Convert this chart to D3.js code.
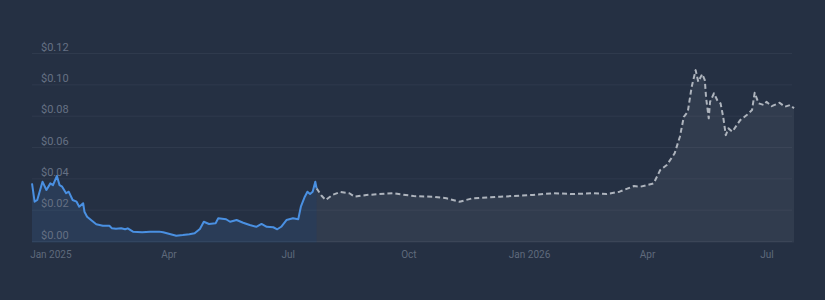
<!DOCTYPE html>
<html>
<head>
<meta charset="utf-8">
<script src="https://cdn.jsdelivr.net/npm/d3@7"></script>
<style>
  html, body { margin: 0; padding: 0; background: #253043; }
  svg { display: block; font-family: Roboto, "Noto Sans", sans-serif; }
</style>
</head>
<body>
<script>
// price history (solid blue)
var histDates = ['2024-12-18','2024-12-20','2024-12-22','2024-12-26','2024-12-29','2025-01-01','2025-01-03','2025-01-06','2025-01-08','2025-01-10',
  '2025-01-13','2025-01-15','2025-01-18','2025-01-21','2025-01-23','2025-01-26','2025-01-27','2025-01-29','2025-02-01','2025-02-05',
  '2025-02-10','2025-02-15','2025-02-17','2025-02-20','2025-02-24','2025-02-27','2025-03-01','2025-03-05','2025-03-12','2025-03-18',
  '2025-03-25','2025-03-28','2025-04-02','2025-04-07','2025-04-12','2025-04-17','2025-04-21','2025-04-25','2025-04-28','2025-05-02',
  '2025-05-07','2025-05-09','2025-05-15','2025-05-18','2025-05-23','2025-05-28','2025-06-02','2025-06-07','2025-06-11','2025-06-15',
  '2025-06-20','2025-06-23','2025-06-26','2025-06-30','2025-07-05','2025-07-09','2025-07-11','2025-07-14','2025-07-16','2025-07-18',
  '2025-07-20','2025-07-22','2025-07-23'];
var histValues = [0.0371,0.0254,0.0265,0.0382,0.0329,0.0371,0.0360,0.0418,0.0360,0.0350,
  0.0308,0.0318,0.0265,0.0254,0.0222,0.0244,0.0190,0.0158,0.0137,0.0110,
  0.0101,0.0101,0.0084,0.0081,0.0084,0.0078,0.0084,0.0063,0.0059,0.0063,
  0.0063,0.0059,0.0048,0.0037,0.0041,0.0046,0.0052,0.0080,0.0126,0.0112,
  0.0116,0.0148,0.0142,0.0126,0.0137,0.0120,0.0105,0.0094,0.0112,0.0094,
  0.0091,0.0078,0.0094,0.0137,0.0148,0.0142,0.0222,0.0286,0.0318,0.0303,
  0.0318,0.0382,0.0339];

// forecast (dashed grey)
var fcDates = ['2025-07-23','2025-07-27','2025-07-30','2025-08-04','2025-08-10','2025-08-17','2025-08-21','2025-08-30','2025-09-19','2025-10-05',
  '2025-10-20','2025-10-30','2025-11-09','2025-11-19','2025-12-10','2026-01-04','2026-01-19','2026-02-04','2026-02-19','2026-03-01',
  '2026-03-11','2026-03-22','2026-03-27','2026-04-06','2026-04-11','2026-04-16','2026-04-22','2026-04-26','2026-04-29','2026-05-02',
  '2026-05-05','2026-05-08','2026-05-10','2026-05-13','2026-05-15','2026-05-16','2026-05-18','2026-05-19','2026-05-22','2026-05-25',
  '2026-05-27','2026-05-29','2026-05-31','2026-06-02','2026-06-05','2026-06-11','2026-06-16','2026-06-20','2026-06-22','2026-06-25',
  '2026-06-29','2026-07-01','2026-07-05','2026-07-11','2026-07-15','2026-07-19','2026-07-22'];
var fcValues = [0.0339,0.0290,0.0265,0.0297,0.0316,0.0308,0.0286,0.0297,0.0308,0.0290,
  0.0286,0.0276,0.0254,0.0276,0.0286,0.0297,0.0308,0.0303,0.0308,0.0303,
  0.0318,0.0354,0.0350,0.0371,0.0456,0.0488,0.0563,0.0669,0.0796,0.0828,
  0.0988,0.1094,0.1020,0.1069,0.1030,0.0916,0.0786,0.0892,0.0946,0.0892,
  0.0882,0.0796,0.0679,0.0722,0.0701,0.0775,0.0807,0.0839,0.0949,0.0882,
  0.0871,0.0892,0.0864,0.0886,0.0860,0.0871,0.0850];

var yTicks = [0, 0.02, 0.04, 0.06, 0.08, 0.10, 0.12];
var xTicks = ['2025-01-01','2025-04-01','2025-07-01','2025-10-01','2026-01-01','2026-04-01','2026-07-01'];
var xTickLabels = ['Jan 2025','Apr','Jul','Oct','Jan 2026','Apr','Jul'];

var width = 825, height = 300;
var parse = d3.timeParse('%Y-%m-%d');

var hist = histDates.map(function (d, i) { return { date: parse(d), value: histValues[i] }; });
var fc = fcDates.map(function (d, i) { return { date: parse(d), value: fcValues[i] }; });

var svg = d3.select('body').append('svg').attr('width', width).attr('height', height);

var x = d3.scaleTime()
  .domain([hist[0].date, fc[fc.length - 1].date])
  .range([32, 794]);
var y = d3.scaleLinear().domain([0, 0.12]).range([241.5, 53.5]);

// gridlines
svg.append('g').selectAll('line')
  .data(yTicks)
  .enter().append('line')
  .attr('x1', 32).attr('x2', 792)
  .attr('y1', function (d) { return y(d); })
  .attr('y2', function (d) { return y(d); })
  .attr('stroke', '#2f3a4d')
  .attr('stroke-width', 1);

var area = d3.area()
  .x(function (d) { return x(d.date); })
  .y0(y(0) + 1)
  .y1(function (d) { return y(d.value); });
var line = d3.line()
  .x(function (d) { return x(d.date); })
  .y(function (d) { return y(d.value); });

svg.append('path').datum(hist).attr('d', area).attr('fill', 'rgba(74,144,226,0.13)');
svg.append('path').datum(fc).attr('d', area).attr('fill', 'rgba(255,255,255,0.06)');

// y labels sit above the gridlines
svg.append('g').selectAll('text')
  .data(yTicks)
  .enter().append('text')
  .attr('x', 41)
  .attr('y', function (d) { return y(d) - 3; })
  .attr('fill', '#657083')
  .attr('font-size', 11)
  .text(function (d) { return '$' + d.toFixed(2); });

svg.append('path').datum(fc).attr('d', line)
  .attr('fill', 'none')
  .attr('stroke', '#aeb4bd')
  .attr('stroke-width', 2)
  .attr('stroke-dasharray', '5,3')
  .attr('stroke-linejoin', 'round');

svg.append('path').datum(hist).attr('d', line)
  .attr('fill', 'none')
  .attr('stroke', '#4a90e2')
  .attr('stroke-width', 2)
  .attr('stroke-linejoin', 'round');

// x axis labels
var xAxis = d3.axisBottom(x)
  .tickValues(xTicks.map(parse))
  .tickSize(0)
  .tickFormat(function (d, i) { return xTickLabels[i]; });

var gx = svg.append('g').attr('transform', 'translate(0,248)').call(xAxis);
gx.select('.domain').remove();
gx.selectAll('text')
  .attr('fill', '#5f6a7c')
  .attr('font-size', 10)
  .attr('font-family', 'Roboto, "Noto Sans", sans-serif');
</script>
</body>
</html>
